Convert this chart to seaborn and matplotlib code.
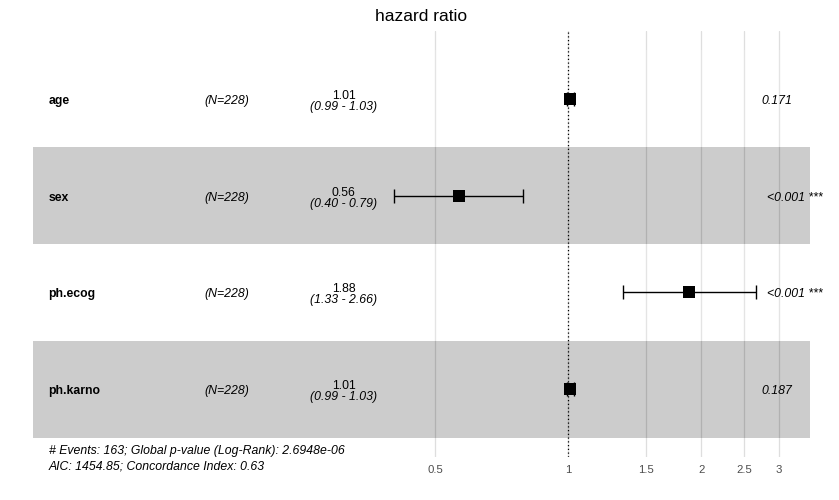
import numpy as np
import pandas as pd
import seaborn as sns
import matplotlib.pyplot as plt
from matplotlib.ticker import NullLocator
from matplotlib.transforms import offset_copy

# cox model summary, one row per covariate
variables = ["age", "sex", "ph.ecog", "ph.karno"]
n_obs = [228, 228, 228, 228]
hr = [1.01, 0.565, 1.878, 1.01]
ci_low = [0.993, 0.404, 1.33, 0.993]
ci_high = [1.03, 0.791, 2.66, 1.03]
hr_labels = ["1.01", "0.56", "1.88", "1.01"]
ci_labels = ["(0.99 - 1.03)", "(0.40 - 0.79)", "(1.33 - 2.66)", "(0.99 - 1.03)"]
p_labels = ["0.171", "<0.001 ***", "<0.001 ***", "0.187"]
x_breaks = [0.5, 1, 1.5, 2, 2.5, 3]
x_break_labels = ["0.5", "1", "1.5", "2", "2.5", "3"]
footer = ("# Events: 163; Global p-value (Log-Rank): 2.6948e-06\n"
          "AIC: 1454.85; Concordance Index: 0.63")

df = pd.DataFrame({"var": variables, "N": n_obs, "hr": hr,
                   "low": ci_low, "high": ci_high})
df["pos"] = np.arange(len(df), 0, -1)

# column layout the way ggforest does it (log scale)
rangeb = np.log([df["low"].min(), df["high"].max()])
d = rangeb[1] - rangeb[0]
rangeplot = [rangeb[0] - d, rangeb[1] + 0.15 * d]
width = rangeplot[1] - rangeplot[0]
x_var = np.exp(rangeplot[0] + 0.02 * width)
x_n = np.exp(rangeplot[0] + 0.22 * width)
x_ci = np.exp(rangeplot[0] + 0.40 * width)
x_p = np.exp(rangeb[1])

sns.set_theme(style="white")
plt.rcParams["font.family"] = ["Liberation Sans", "DejaVu Sans"]
plt.rcParams["text.color"] = "black"

fig = plt.figure(figsize=(8.39, 5.0), dpi=100)
ax = fig.add_axes([33 / 839, 43 / 500, 777 / 839, 426 / 500])
ax.set_xscale("log")
ax.set_xlim(np.exp(rangeplot[0]), np.exp(rangeplot[1]))
ax.set_ylim(0.3, len(df) + 0.7)

# grid
for b in x_breaks:
    ax.axvline(b, color="#DEDEDE", lw=0.9, zorder=0)

# alternating row bands
for i, p in enumerate(df["pos"]):
    col = (0, 0, 0, 0.2) if i % 2 == 1 else (1, 1, 1, 0.2)
    ax.axhspan(p - 0.5, p + 0.5, color=col, lw=0, zorder=1)

ax.axvline(1, color="black", lw=0.9, ls=(0, (1, 2)), zorder=2)

ax.errorbar(df["hr"], df["pos"],
            xerr=[df["hr"] - df["low"], df["high"] - df["hr"]],
            fmt="none", ecolor="black", elinewidth=1, capsize=5.2,
            capthick=1, zorder=3)
sns.scatterplot(data=df, x="hr", y="pos", marker="s", s=8.6 ** 2,
                color="black", linewidth=0, legend=False, zorder=4, ax=ax)

fs = 8.8
lab_tr = offset_copy(ax.transData, fig=fig, y=-2, units="dots")
ci_tr = offset_copy(ax.transData, fig=fig, y=-2, units="dots")
for i, r in df.iterrows():
    y = r["pos"]
    ax.text(x_var, y, r["var"], ha="left", va="center", fontsize=fs,
            fontweight="bold", clip_on=False, transform=lab_tr)
    ax.text(x_n, y, "(N=%d)" % r["N"], ha="left", va="center", fontsize=fs,
            style="italic", clip_on=False, transform=lab_tr)
    ax.text(x_ci, y, hr_labels[i], ha="center", va="baseline", fontsize=fs,
            clip_on=False)
    ax.text(x_ci, y, ci_labels[i], ha="center", va="top", fontsize=fs,
            style="italic", clip_on=False, transform=ci_tr)

# p-values: left aligned with a small shift proportional to the label width
renderer = fig.canvas.get_renderer()
for i, r in df.iterrows():
    t = ax.text(x_p, r["pos"], p_labels[i], ha="left", va="center",
                fontsize=fs, style="italic", clip_on=False)
    w = t.get_window_extent(renderer).width
    t.set_transform(offset_copy(ax.transData, fig=fig, x=0.2 * w, y=-2,
                                units="dots"))

ax.text(x_var, 0.5, footer, ha="left", va="top", fontsize=fs, style="italic",
        linespacing=1.45, clip_on=False,
        transform=offset_copy(ax.transData, fig=fig, y=-7, units="dots"))

ax.set_xticks(x_breaks)
ax.set_xticklabels(x_break_labels)
ax.xaxis.set_minor_locator(NullLocator())
ax.set_yticks([])
ax.tick_params(axis="x", length=0, pad=5.5, labelsize=8.2, labelcolor="#4D4D4D")
ax.set_xlabel("")
ax.set_ylabel("")
for s in ax.spines.values():
    s.set_visible(False)

ax.set_title("hazard ratio", fontsize=12.5, pad=7)

fig.savefig("out.png", dpi=100)
